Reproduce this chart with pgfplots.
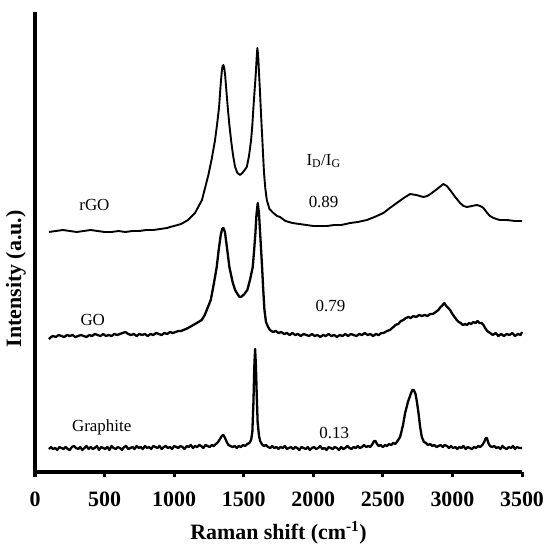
\documentclass[border=0pt]{standalone}
\usepackage{fontspec}
\setmainfont{Liberation Serif}
\usepackage{pgfplots}
\pgfplotsset{compat=1.18}
\begin{document}
\begin{tikzpicture}
\begin{axis}[
  scale only axis, width=487bp, height=460bp,
  xmin=0, xmax=3500, ymin=0, ymax=460,
  axis lines*=left,
  axis line style={line width=3.2bp, black},
  xtick={0,500,1000,1500,2000,2500,3000,3500},
  xticklabels={0,500,1000,1500,2000,2500,3000,3500},
  ytick=\empty,
  tick align=outside,
  major tick length=5bp,
  major tick style={line width=3bp, black},
  xticklabel style={font=\fontsize{22}{24}\selectfont\bfseries, yshift=-11bp},
  xlabel={Raman shift (cm\textsuperscript{-1})},
  ylabel={Intensity (a.u.)},
  label style={font=\fontsize{22}{24}\selectfont\bfseries},
  xlabel style={at={(axis description cs:0.5,-0.132)}, anchor=center},
  ylabel style={at={(axis description cs:-0.039,0.42)}, anchor=center},
  clip=false,
]
\coordinate (sw) at (rel axis cs:0,0);
% rGO
\addplot[black, line width=1.9bp, line join=round] coordinates {
(100,240) (150,241) (200,242) (250,241) (300,240) (350,241) (400,242) (450,241) (500,240) (550,240) (600,241) (650,240) (700,241) (750,241) (800,242) (850,242) (900,243) (950,244) (970,245) (1000,246) (1050,248) (1100,252) (1150,259) (1200,272) (1246,297) (1270,313) (1294,332) (1309,348) (1323,365) (1333,385) (1342,400) (1348,406) (1354,407) (1360,404) (1367,396) (1375,382) (1385,365) (1397,347) (1409,332) (1423,317) (1438,305) (1455,299) (1474,297) (1490,299) (1507,302) (1522,305) (1538,316) (1553,332) (1562,347) (1570,365) (1579,383) (1587,399) (1593,414) (1598,424) (1604,416) (1610,399) (1616,383) (1622,365) (1628,348) (1634,332) (1640,315) (1646,299) (1655,284) (1666,272) (1685,263) (1713,259) (1740,256) (1761,255) (1800,251) (1850,249) (1900,248) (1950,247) (2000,246) (2050,246) (2100,246) (2150,247) (2200,247) (2265,249) (2320,250) (2385,252) (2440,255) (2504,259) (2550,264) (2600,269) (2650,274) (2696,278) (2740,277) (2792,275) (2820,276) (2852,279) (2890,283) (2935,288) (2960,286) (2983,282) (3020,275) (3055,269) (3080,266) (3104,265) (3140,266) (3175,267) (3200,266) (3223,264) (3250,259) (3270,256) (3295,254) (3340,252) (3391,252) (3450,251) (3500,251)
};
% GO
\addplot[black, line width=2.3bp, line join=round] coordinates {
(100,133) (115,135) (130,136) (150,135) (170,137) (190,136) (210,135) (230,137) (250,136) (270,137) (290,135) (310,136) (330,137) (350,136) (370,135) (390,137) (410,136) (430,138) (450,137) (470,136) (490,138) (510,136) (530,137) (550,136) (570,138) (590,137) (610,138) (630,139) (650,140) (670,138) (690,137) (710,138) (730,136) (750,138) (770,137) (790,138) (810,136) (830,138) (850,137) (870,139) (890,138) (910,137) (930,139) (950,138) (970,140) (990,139) (1010,140) (1030,141) (1050,141) (1066,142) (1085,143) (1100,144) (1125,146) (1150,148) (1175,150) (1198,152) (1220,157) (1240,164) (1263,172) (1285,188) (1306,205) (1320,222) (1335,237) (1345,243) (1354,244) (1365,240) (1380,224) (1397,205) (1420,190) (1438,182) (1455,178) (1470,175) (1479,175) (1490,176) (1505,178) (1515,180) (1526,182) (1545,192) (1565,205) (1575,222) (1584,239) (1592,258) (1601,269) (1610,258) (1618,239) (1625,222) (1632,205) (1640,183) (1649,162) (1660,150) (1675,145) (1689,142) (1710,140) (1730,141) (1750,139) (1770,140) (1790,138) (1810,139) (1830,137) (1850,139) (1870,137) (1890,138) (1910,136) (1930,138) (1950,137) (1970,136) (1990,138) (2010,136) (2030,137) (2050,135) (2070,137) (2090,136) (2110,138) (2130,136) (2150,137) (2170,135) (2190,137) (2210,136) (2230,138) (2250,136) (2270,138) (2290,137) (2310,136) (2330,138) (2350,137) (2370,139) (2390,137) (2410,138) (2430,136) (2450,138) (2470,137) (2490,139) (2504,139) (2530,141) (2550,142) (2576,145) (2590,147) (2610,148) (2630,151) (2648,152) (2665,154) (2685,155) (2700,154) (2720,156) (2740,155) (2760,157) (2780,156) (2800,157) (2820,156) (2840,158) (2860,158) (2880,160) (2899,162) (2915,165) (2930,167) (2942,169) (2955,166) (2970,164) (2983,162) (3000,158) (3015,155) (3031,152) (3045,150) (3060,149) (3075,147) (3091,148) (3105,147) (3120,149) (3135,148) (3150,150) (3165,149) (3180,151) (3195,149) (3210,149) (3223,147) (3235,144) (3250,141) (3271,139) (3290,137) (3310,139) (3330,136) (3350,138) (3370,136) (3390,138) (3410,137) (3430,139) (3450,136) (3470,138) (3490,137) (3500,140)
};
% Graphite
\addplot[black, line width=2.3bp, line join=round] coordinates {
(100,23) (115,25) (130,23) (145,24) (160,22) (175,25) (190,24) (205,23) (220,25) (235,23) (250,22) (265,25) (280,26) (295,24) (310,23) (325,25) (340,22) (355,24) (370,26) (385,23) (400,25) (415,23) (430,24) (445,26) (460,22) (475,25) (490,24) (505,23) (520,25) (535,22) (550,26) (565,24) (580,23) (595,25) (610,24) (625,22) (640,25) (655,26) (670,23) (685,24) (700,25) (715,23) (730,26) (745,24) (760,25) (775,23) (790,26) (805,24) (820,25) (835,23) (850,26) (865,25) (880,24) (895,26) (910,23) (925,25) (940,26) (955,24) (970,25) (985,23) (1000,26) (1015,25) (1030,24) (1045,26) (1060,25) (1075,23) (1090,26) (1105,25) (1120,27) (1135,24) (1150,26) (1165,25) (1180,27) (1195,26) (1210,24) (1225,27) (1240,26) (1255,25) (1270,27) (1285,26) (1300,28) (1315,30) (1330,33) (1342,36) (1354,37) (1366,34) (1378,30) (1390,27) (1405,26) (1420,25) (1435,26) (1450,24) (1465,26) (1480,25) (1495,27) (1510,26) (1525,28) (1540,29) (1553,32) (1562,40) (1570,70) (1576,105) (1582,123) (1588,105) (1594,75) (1600,50) (1610,36) (1618,31) (1630,28) (1645,26) (1660,27) (1675,25) (1690,24) (1705,26) (1720,24) (1735,25) (1750,23) (1765,25) (1780,24) (1795,26) (1810,23) (1825,24) (1840,25) (1855,23) (1870,25) (1885,24) (1900,22) (1915,25) (1930,24) (1945,23) (1960,25) (1975,22) (1990,24) (2005,25) (2020,23) (2035,24) (2050,26) (2065,23) (2080,24) (2095,22) (2110,25) (2125,24) (2140,23) (2155,25) (2170,24) (2185,22) (2200,25) (2215,23) (2230,24) (2245,26) (2260,24) (2275,23) (2290,25) (2305,24) (2320,26) (2335,24) (2350,25) (2365,27) (2380,25) (2395,26) (2410,25) (2425,28) (2437,31) (2447,31) (2458,28) (2470,26) (2485,27) (2500,25) (2515,27) (2530,26) (2545,28) (2560,27) (2575,29) (2590,28) (2605,31) (2624,35) (2645,47) (2660,59) (2680,70) (2700,78) (2712,82) (2722,82) (2735,78) (2745,70) (2756,59) (2768,45) (2780,35) (2795,30) (2810,29) (2825,27) (2840,28) (2855,26) (2870,27) (2885,25) (2900,26) (2915,27) (2930,25) (2945,27) (2960,26) (2975,24) (2990,26) (3005,24) (3020,25) (3035,23) (3050,25) (3065,24) (3080,26) (3095,23) (3110,25) (3125,24) (3140,23) (3155,25) (3170,24) (3185,26) (3200,25) (3215,27) (3228,30) (3240,34) (3248,34) (3258,29) (3270,26) (3285,25) (3300,26) (3315,24) (3330,25) (3345,23) (3360,26) (3375,24) (3390,23) (3405,25) (3420,24) (3435,26) (3450,23) (3465,25) (3480,24) (3500,24)
};
\node[font=\fontsize{17}{19}\selectfont] at (axis cs:427,267.5) {rGO};
\node[font=\fontsize{17}{19}\selectfont] at (axis cs:415,152) {GO};
\node[font=\fontsize{17}{19}\selectfont] at (axis cs:479,45) {Graphite};
\node[font=\fontsize{17}{19}\selectfont] at (axis cs:2074,311) {I\textsubscript{D}/I\textsubscript{G}};
\node[font=\fontsize{17}{19}\selectfont] at (axis cs:2074,270) {0.89};
\node[font=\fontsize{17}{19}\selectfont] at (axis cs:2124,166) {0.79};
\node[font=\fontsize{17}{19}\selectfont] at (axis cs:2150,39) {0.13};
\end{axis}
\pgfresetboundingbox
\path[use as bounding box] (sw) ++(-35bp,-74bp) rectangle ++(550bp,546bp);
\end{tikzpicture}
\end{document}
